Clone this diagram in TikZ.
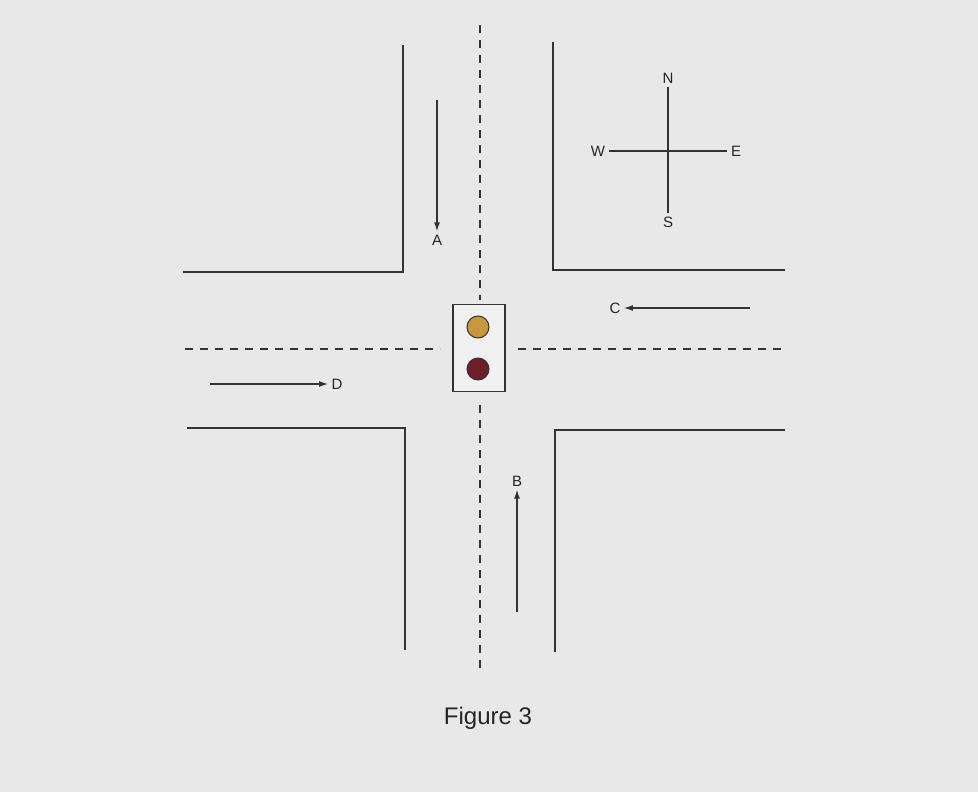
\documentclass[tikz,border=0pt]{standalone}
\usepackage{fontspec}
\setmainfont{Liberation Sans}
\usetikzlibrary{arrows.meta}
\begin{document}
\begin{tikzpicture}[x=1pt,y=-1pt,
  road/.style={line width=1.3pt,black!80},
  lane/.style={line width=1.1pt,black!80,dash pattern=on 8pt off 7pt},
  mv/.style={line width=1.2pt,black!80,-{Latex[length=9pt,width=6pt]}},
  lbl/.style={font=\fontsize{15}{15}\selectfont,text=black!85}]
\fill[black!9] (0,0) rectangle (978,792);
\useasboundingbox (0,0) rectangle (978,792);
% road edges
\draw[road] (403,45) -- (403,272) -- (183,272);
\draw[road] (553,42) -- (553,270) -- (785,270);
\draw[road] (187,428) -- (405,428) -- (405,650);
\draw[road] (785,430) -- (555,430) -- (555,652);
% lane markings
\draw[lane] (480,25) -- (480,300);
\draw[lane] (480,405) -- (480,670);
\draw[lane] (185,349) -- (440,349);
\draw[lane] (518,349) -- (785,349);
% traffic light
\node[draw=black!80,fill=red!4!black!6,line width=1.3pt,minimum width=52pt,minimum height=87pt,inner sep=0] (tl) at (479,348) {};
\node[circle,draw=black!80,fill={rgb,255:red,200;green,150;blue,60},line width=1pt,minimum size=22pt,inner sep=0] (amber) at (478,327) {};
\node[circle,draw=black!80,fill={rgb,255:red,110;green,30;blue,40},line width=1pt,minimum size=22pt,inner sep=0] (red) at (478,369) {};
% vehicles
\node[lbl] (A) at (437,240) {A};
\coordinate (a0) at (437,100);
\draw[mv] (a0) -- (A.north);
\node[lbl] (B) at (517,481) {B};
\coordinate (b0) at (517,612);
\draw[mv] (b0) -- (B.south);
\node[lbl] (C) at (615,308) {C};
\coordinate (c0) at (750,308);
\draw[mv] (c0) -- (C.east);
\node[lbl] (D) at (337,384) {D};
\coordinate (d0) at (210,384);
\draw[mv] (d0) -- (D.west);
% compass
\node[lbl] (N) at (668,78) {N};
\node[lbl] (S) at (668,222) {S};
\node[lbl] (W) at (598,151) {W};
\node[lbl] (E) at (736,151) {E};
\draw[line width=1.2pt,black!80] (N.south) -- (S.north);
\draw[line width=1.2pt,black!80] (W.east) -- (E.west);
\node[font=\fontsize{24}{24}\selectfont,text=black!85] (fig) at (488,718) {Figure 3};
\end{tikzpicture}
\end{document}
